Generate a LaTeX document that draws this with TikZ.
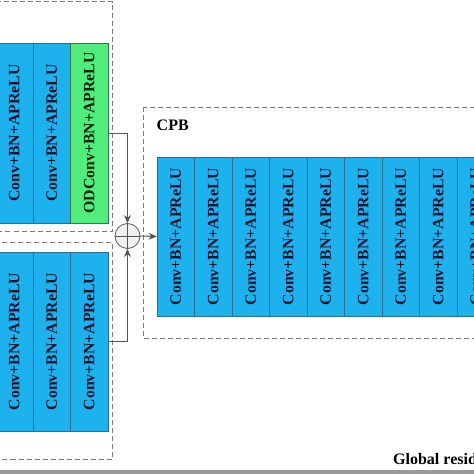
\documentclass[tikz,border=0pt]{standalone}
\usepackage{fontspec}
\setmainfont{Liberation Serif}
\usetikzlibrary{arrows.meta}
\definecolor{blkblue}{HTML}{1DB2EE}
\definecolor{blkgreen}{HTML}{52EC7C}
\definecolor{blkedge}{HTML}{2C6F8C}
\definecolor{grnedge}{HTML}{2F7A45}
\definecolor{txtdark}{HTML}{161630}
\definecolor{dashgray}{HTML}{7A7A7A}
\definecolor{arrgray}{HTML}{555555}
\tikzset{
  blk/.style={draw=blkedge, line width=0.7pt, fill=blkblue, inner sep=0pt, text=txtdark,
    font=\bfseries\fontsize{15.8}{18}\selectfont},
  gblk/.style={blk, draw=grnedge, fill=blkgreen, text=black!85!green},
  dbox/.style={draw=dashgray, dash pattern=on 5pt off 3pt, line width=0.9pt},
  arr/.style={draw=arrgray, line width=1pt, -{Stealth[length=8pt,width=7pt]}},
  lbl/.style={font=\bfseries\fontsize{16}{19}\selectfont, inner sep=0pt, text=black}
}
\newcommand{\cbn}{\rotatebox{90}{Conv+BN+APReLU}}
\begin{document}
\begin{tikzpicture}[x=1pt,y=-1pt]
\useasboundingbox (0,0) rectangle (474,474);
\clip (0,0) rectangle (474,474);
\fill[white] (0,0) rectangle (474,474);
% dashed containers
\draw[dbox] (-5,1.5) rectangle (112.5,231);
\draw[dbox] (-5,242.5) rectangle (112.5,459);
\draw[dbox] (143,107) rectangle (490,338);
% top-left blocks
\node[blk, minimum width=37.5pt, minimum height=180pt] (tl1) at (14.25,133) {\cbn};
\node[blk, minimum width=37.5pt, minimum height=180pt] (tl2) at (51.75,133) {\cbn};
\node[gblk, minimum width=37.5pt, minimum height=180pt] (tl3) at (89.25,133) {\rotatebox{90}{ODConv+BN+APReLU}};
% bottom-left blocks
\node[blk, minimum width=37.5pt, minimum height=179pt] (bl1) at (14.25,341.5) {\cbn};
\node[blk, minimum width=37.5pt, minimum height=179pt] (bl2) at (51.75,341.5) {\cbn};
\node[blk, minimum width=37.5pt, minimum height=179pt] (bl3) at (89.25,341.5) {\cbn};
% sum node
\node[circle, draw=arrgray, fill=black!6, line width=0.8pt, minimum size=25pt, inner sep=0pt] (sum) at (127.5,236) {};
\draw[arrgray, line width=0.8pt] (sum.north) -- (sum.south) (sum.west) -- (sum.east);
% CPB
\node[lbl, anchor=west] (cpb) at (156.5,125.5) {CPB};
\foreach \i/\x in {1/175.75,2/213.25,3/250.75,4/288.25,5/325.75,6/363.25,7/400.75,8/438.25,9/475.75}{
  \node[blk, minimum width=37.5pt, minimum height=159pt] (c\i) at (\x,236.5) {\cbn};
}
% connectors
\draw[arr] (tl3.east) -| (sum.north);
\draw[arr] (bl3.east) -| (sum.south);
\draw[arr] (sum.east) -- (c1.west);
% bottom label and bar
\node[lbl, anchor=base west] (glob) at (393,464) {Global residual};
\fill[black!40] (0,470) rectangle (474,474);
\end{tikzpicture}
\end{document}
